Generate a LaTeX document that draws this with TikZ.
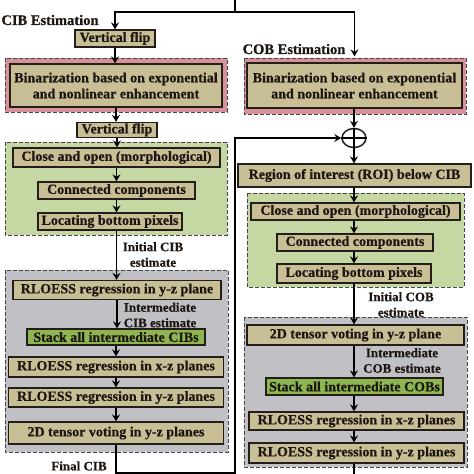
\documentclass[tikz,border=0pt]{standalone}
\usepackage{fontspec}
\setmainfont{Liberation Serif}[BoldFeatures={FakeBold=0.6}]
\usetikzlibrary{arrows.meta,shapes.geometric}

\definecolor{tanbox}{RGB}{201,191,150}
\definecolor{pinkbg}{RGB}{214,146,152}
\definecolor{greenbg}{RGB}{197,215,162}
\definecolor{graybg}{RGB}{192,192,197}
\definecolor{stackgreen}{RGB}{141,181,80}
\definecolor{boxline}{RGB}{35,30,25}
\definecolor{dashline}{RGB}{70,70,70}
\definecolor{textcol}{RGB}{30,22,18}

\newcommand{\boxtextfont}{\bfseries\fontsize{14}{16}\selectfont}
\newcommand{\labeltextfont}{\bfseries\fontsize{13}{15.5}\selectfont}

\begin{document}
\begin{tikzpicture}[x=1pt,y=-1pt,
    box/.style={draw=boxline,line width=1.3pt,fill=tanbox,inner sep=0pt,font=\boxtextfont,text=textcol,align=center},
    stackbox/.style={box,fill=stackgreen},
    bg/.style={draw=dashline,line width=1pt,dash pattern=on 4pt off 2pt},
    lbl/.style={font=\labeltextfont,text=textcol,align=center,inner sep=0pt},
    arrow/.style={line width=1.5pt,-{Stealth[length=7pt,width=8pt,inset=2.5pt]}},
    line/.style={line width=1.5pt}]
\useasboundingbox (0,0) rectangle (474,474);
\clip (0,0) rectangle (474,474);

% dashed group backgrounds
\filldraw[bg,fill=pinkbg] (5,58) rectangle (227,112);
\filldraw[bg,fill=pinkbg] (244,58) rectangle (466,114);
\filldraw[bg,fill=greenbg] (5,142) rectangle (227,235);
\filldraw[bg,fill=greenbg] (247,193) rectangle (464,287);
\filldraw[bg,fill=graybg] (5,270) rectangle (228,452);
\filldraw[bg,fill=graybg] (244,317) rectangle (467,467);

% CIB estimation
\node[lbl,font=\bfseries\fontsize{14.5}{16}\selectfont] (cibtitle) at (50,20) {CIB Estimation};
\node[box,minimum width=80,minimum height=17] (cibflip) at (115,38.5) {Vertical flip};
\node[box,minimum width=212,minimum height=43] (cibbin) at (116,85.5) {Binarization based on exponential\\and nonlinear enhancement};
\node[box,minimum width=80,minimum height=15] (cibflipb) at (117,130) {Vertical flip};
\node[box,minimum width=207,minimum height=19] (cibclose) at (116.5,157.5) {Close and open (morphological)};
\node[box,minimum width=157,minimum height=17] (cibconn) at (116.5,190.5) {Connected components};
\node[box,minimum width=144,minimum height=17] (cibloc) at (110,221.5) {Locating bottom pixels};
\node[lbl] (cibinit) at (153,254.5) {Initial CIB\\estimate};
\node[box,minimum width=208,minimum height=19] (cibrly) at (117,290) {RLOESS regression in y-z plane};
\node[lbl] (cibinter) at (160,315) {Intermediate\\CIB estimate};
\node[stackbox,minimum width=178,minimum height=16] (cibstack) at (116,337) {Stack all intermediate CIBs};
\node[box,minimum width=215,minimum height=20] (cibrlxz) at (116,367) {RLOESS regression in x-z planes};
\node[box,minimum width=215,minimum height=19] (cibrlyz) at (116,397.5) {RLOESS regression in y-z planes};
\node[box,minimum width=215,minimum height=22] (cibtv) at (116,433) {2D tensor voting in y-z planes};
\node[lbl] (cibfinal) at (79,466) {Final CIB};

% COB estimation
\node[lbl,font=\bfseries\fontsize{14.5}{16}\selectfont] (cobtitle) at (294,49) {COB Estimation};
\node[box,minimum width=215,minimum height=45] (cobbin) at (354.5,85.5) {Binarization based on exponential\\and nonlinear enhancement};
\node[draw=boxline,line width=1.5pt,ellipse,minimum width=24,minimum height=19,inner sep=0pt] (sum) at (354,138) {};
\node[box,minimum width=233,minimum height=23] (cobroi) at (354.5,175.5) {Region of interest (ROI) below CIB};
\node[box,minimum width=209,minimum height=17] (cobclose) at (355.5,211.5) {Close and open (morphological)};
\node[box,minimum width=156,minimum height=17] (cobconn) at (355,242.5) {Connected components};
\node[box,minimum width=154,minimum height=19] (cobloc) at (354,273.5) {Locating bottom pixels};
\node[lbl] (cobinit) at (401,304.5) {Initial COB\\estimate};
\node[box,minimum width=217,minimum height=20] (cobtv) at (355.5,335) {2D tensor voting in y-z plane};
\node[lbl] (cobinter) at (402,360.5) {Intermediate\\COB estimate};
\node[stackbox,minimum width=177,minimum height=17] (cobstack) at (354.5,386.5) {Stack all intermediate COBs};
\node[box,minimum width=215,minimum height=18] (cobrlxz) at (356.5,421) {RLOESS regression in x-z planes};
\node[box,minimum width=215,minimum height=20] (cobrlyz) at (356.5,453) {RLOESS regression in y-z planes};

% input split
\coordinate (top) at (235,0);
\coordinate (split) at (235,12);
\draw[line] (top) -- (split);
\draw[arrow] (split) -| (cibflip.north);
\draw[arrow] (split) -| ([yshift=6pt]cobbin.north);

% CIB flow
\draw[arrow] (cibflip.south) -- (cibflip.south |- cibbin.north);
\draw[arrow] (cibbin.south) -- (cibbin.south |- cibflipb.north);
\draw[arrow] (cibflipb.south) -- (cibflipb.south |- cibclose.north);
\draw[arrow] (cibclose.south) -- (cibclose.south |- cibconn.north);
\draw[arrow] (cibconn.south) -- (cibconn.south |- cibloc.north);
\draw[arrow] (cibconn.south |- cibloc.south) -- (cibconn.south |- cibrly.north);
\draw[arrow] (cibrly.south) -- (cibrly.south |- cibstack.north);
\draw[arrow] (cibstack.south) -- (cibstack.south |- cibrlxz.north);
\draw[arrow] (cibrlxz.south) -- (cibrlxz.south |- cibrlyz.north);
\draw[arrow] (cibrlyz.south) -- (cibrlyz.south |- cibtv.north);

% CIB result into the COB branch
\coordinate (loop) at (235,473);
\draw[arrow] (cibtv.south) |- (loop) |- (sum.west);

% COB flow
\draw[arrow] (cobbin.south -| sum) -- (sum.north);
\draw[line] (sum.north) -- (sum.south) (sum.west) -- (sum.east);
\draw[arrow] (sum.south) -- (sum.south |- cobroi.north);
\draw[arrow] (sum.south |- cobroi.south) -- (sum.south |- cobclose.north);
\draw[arrow] (sum.south |- cobclose.south) -- (sum.south |- cobconn.north);
\draw[arrow] (sum.south |- cobconn.south) -- (sum.south |- cobloc.north);
\draw[arrow] (sum.south |- cobloc.south) -- (sum.south |- cobtv.north);
\draw[arrow] (sum.south |- cobtv.south) -- (sum.south |- cobstack.north);
\draw[arrow] (sum.south |- cobstack.south) -- (sum.south |- cobrlxz.north);
\draw[arrow] (sum.south |- cobrlxz.south) -- (sum.south |- cobrlyz.north);
\coordinate (cobend) at (354,474);
\draw[line] (sum.south |- cobrlyz.south) -- (cobend);
\end{tikzpicture}
\end{document}
